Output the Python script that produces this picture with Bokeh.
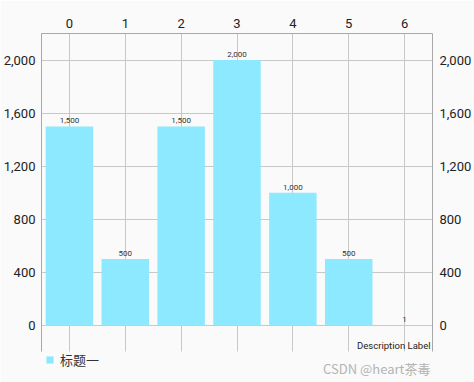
from bokeh.plotting import figure
from bokeh.models import (ColumnDataSource, FixedTicker, NumeralTickFormatter, LinearAxis,
                          Range1d, Label, Legend, LegendItem)
from bokeh.embed import file_html
from bokeh.resources import INLINE
from bokeh.core.properties import value

categories = [0, 1, 2, 3, 4, 5, 6]
values = [1500, 500, 1500, 2000, 1000, 500, 1]
value_labels = ["1,500", "500", "1,500", "2,000", "1,000", "500", "1"]
y_ticks = [0, 400, 800, 1200, 1600, 2000]
series_name = "标题一"
description = "Description Label"
watermark = "CSDN @heart茶毒"

AXIS_MIN, AXIS_MAX = -200, 2200

BG = "#FAFAFA"
BAR = "#8CE9FF"
GRID = "#C8C8C8"
AXIS = "#A8A8A8"
FONT = "Roboto"

src = ColumnDataSource(dict(x=categories, top=values, label=value_labels))

p = figure(width=474, height=382, output_backend="svg", toolbar_location=None,
           x_range=Range1d(-0.5, 6.5), y_range=Range1d(-430, AXIS_MAX),
           x_axis_location="above", background_fill_color=BG, border_fill_color=BG,
           min_border_left=38, min_border_right=40, min_border_top=33, min_border_bottom=0)
p.outline_line_color = None

bars = p.vbar(x="x", top="top", width=0.85, source=src, fill_color=BAR, line_color=None)
p.text(x="x", y="top", text="label", source=src, text_align="center", text_baseline="bottom",
       y_offset=-3, text_font_size="8px", text_color="#333333", text_font=value(FONT))

# axes
xa = p.xaxis[0]
xa.ticker = FixedTicker(ticks=categories)
ya = p.yaxis[0]
ya.ticker = FixedTicker(ticks=y_ticks)
ya.formatter = NumeralTickFormatter(format="0,0")
ra = LinearAxis(ticker=FixedTicker(ticks=y_ticks), formatter=NumeralTickFormatter(format="0,0"))
p.add_layout(ra, "right")
ya.bounds = (AXIS_MIN, AXIS_MAX)
ra.bounds = (AXIS_MIN, AXIS_MAX)

for ax, so in ((xa, 6), (ya, 6), (ra, 7)):
    ax.major_tick_line_color = None
    ax.minor_tick_line_color = None
    ax.major_tick_out = 0
    ax.major_tick_in = 0
    ax.axis_line_color = AXIS
    ax.major_label_text_font = FONT
    ax.major_label_text_font_size = "13px"
    ax.major_label_text_color = "#222222"
    ax.major_label_standoff = so

p.xgrid.ticker = FixedTicker(ticks=categories)
p.ygrid.ticker = FixedTicker(ticks=y_ticks)
p.xgrid.grid_line_color = GRID
p.ygrid.grid_line_color = GRID
try:
    p.xgrid.cross_bounds = (AXIS_MIN, AXIS_MAX)
except Exception:
    pass

# description label (inside the chart area, bottom right)
p.add_layout(Label(x=6.5, y=AXIS_MIN, text=description, text_align="right", text_baseline="bottom",
                   x_offset=-2, y_offset=1, text_font_size="9.5px", text_color="#222222",
                   text_font=FONT))

# watermark
p.add_layout(Label(x=6.5, y=AXIS_MIN, text=watermark, text_align="right", text_baseline="middle",
                   x_offset=-2, y_offset=-17, text_font_size="13px", text_color="#B4B4B4",
                   text_font="Noto Sans CJK SC"))

legend = Legend(items=[LegendItem(label=series_name, renderers=[bars])],
                location=(4, 13), orientation="horizontal",
                background_fill_alpha=0, border_line_color=None,
                label_text_font="Noto Sans CJK SC", label_text_font_size="13px",
                label_text_color="#333333", glyph_width=9, glyph_height=9,
                label_standoff=6, padding=2, margin=0, spacing=0)
p.add_layout(legend)

open("out.html", "w").write(file_html(p, INLINE))
